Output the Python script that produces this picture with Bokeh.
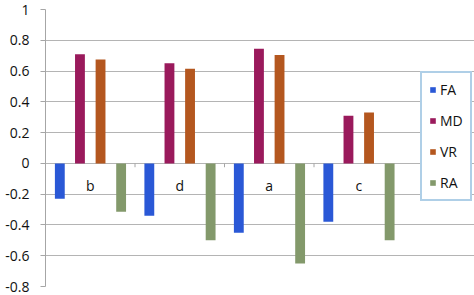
from bokeh.plotting import figure
from bokeh.models import (Range1d, FixedTicker, CustomJSTickFormatter,
                          Legend, LegendItem, ColumnDataSource)
from bokeh.core.properties import value
from bokeh.embed import file_html
from bokeh.resources import INLINE

categories = ["b", "d", "a", "c"]
FA = [-0.23, -0.34, -0.45, -0.38]
MD = [0.71, 0.65, 0.745, 0.31]
VR = [0.675, 0.615, 0.705, 0.33]
RA = [-0.315, -0.50, -0.65, -0.50]
series_names = ["FA", "MD", "VR", "RA"]
series_colors = ["#2a58d6", "#9a1a5c", "#b4571f", "#83996b"]
yticks = [-0.8, -0.6, -0.4, -0.2, 0, 0.2, 0.4, 0.6, 0.8, 1]

W, H = 474, 295
left_px, plot_right_px = 45, 403
n = len(categories)
xpos = [i + 0.5 for i in range(n)]
x_end = n * (W - left_px) / (plot_right_px - left_px)

src = ColumnDataSource(dict(x=xpos, cat=categories, FA=FA, MD=MD, VR=VR, RA=RA))

p = figure(x_range=Range1d(0, x_end), y_range=Range1d(-0.8, 1),
           width=W, height=H, output_backend="svg", toolbar_location=None,
           x_axis_location=None,
           min_border_left=left_px, min_border_right=0, min_border_top=9, min_border_bottom=9)
p.outline_line_color = None
p.background_fill_color = "white"
p.border_fill_color = "white"

offsets = [-0.34, -0.115, 0.115, 0.345]
items = []
for name, col, off in zip(series_names, series_colors, offsets):
    xs = [x + off for x in xpos]
    s = ColumnDataSource(dict(x=xs, top=src.data[name]))
    r = p.vbar(x="x", top="top", bottom=0, width=0.11, source=s,
               fill_color=col, line_color=None)
    items.append(LegendItem(label=name, renderers=[r]))

# small tick marks between categories on the zero axis
bx = [float(i) for i in range(1, n)]
p.segment(x0=bx, x1=bx, y0=[0] * len(bx), y1=[-0.025] * len(bx),
          line_color="#a6a6a6", line_width=1)

# category labels just below zero line
p.text(x="x", y=0, text="cat", source=src, text_align="center", text_baseline="middle",
       y_offset=22, text_font=value("Open Sans"), text_font_size="14px", text_color="#111111")

# y axis
p.yaxis.ticker = FixedTicker(ticks=yticks)
p.yaxis.formatter = CustomJSTickFormatter(code="return String(Math.round(tick*10)/10)")
p.yaxis.major_label_text_font = "Open Sans"
p.yaxis.major_label_text_font_size = "14px"
p.yaxis.major_label_text_color = "#111111"
p.yaxis.major_label_standoff = 11
p.yaxis.major_tick_out = 5
p.yaxis.major_tick_in = 0
p.yaxis.minor_tick_out = 0
p.yaxis.minor_tick_in = 0
p.yaxis.axis_line_color = "#a6a6a6"
p.yaxis.major_tick_line_color = "#a6a6a6"

p.xgrid.grid_line_color = None
p.ygrid.grid_line_color = "#b4b4b4"
p.ygrid.grid_line_width = 1
p.ygrid.ticker = FixedTicker(ticks=yticks)
p.ygrid.bounds = (0, n)

legend = Legend(items=items, location=(375, 85), orientation="vertical",
                glyph_width=7, glyph_height=7, label_height=17, spacing=12,
                padding=7, label_standoff=4, margin=0,
                label_text_font="Open Sans", label_text_font_size="14px",
                label_text_color="#111111",
                border_line_color="#5f9fcf", border_line_width=2,
                background_fill_color="white", background_fill_alpha=1)
p.add_layout(legend, "center")

open("out.html", "w").write(file_html(p, INLINE))
